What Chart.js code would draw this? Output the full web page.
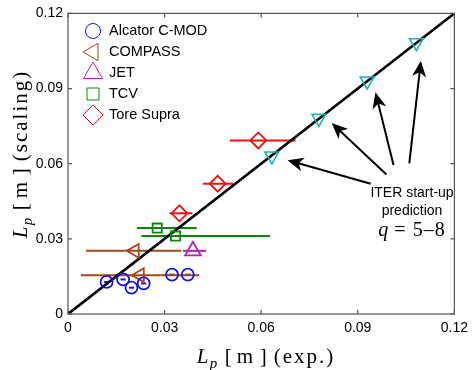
<!DOCTYPE html>
<html><head><meta charset="utf-8">
<script src="https://cdn.jsdelivr.net/npm/chart.js@4"></script>
<style>html,body{margin:0;padding:0;background:#fff}</style>
</head><body>
<canvas id="c" width="474" height="370"></canvas>
<script>
// L_p scaling vs experiment
const tickVals = [0, 0.03, 0.06, 0.09, 0.12];

const cmodX = [0.0120, 0.0171, 0.0197, 0.0235, 0.0323, 0.0372];
const cmodY = [0.0128, 0.0138, 0.0105, 0.0122, 0.0157, 0.0157];
const cmodLo = [0.0112, 0.0163, 0.0189, 0.0227, 0.0315, 0.0364];
const cmodHi = [0.0128, 0.0179, 0.0205, 0.0243, 0.0331, 0.0380];

const compassX = [0.0207, 0.0223];
const compassY = [0.0252, 0.0155];
const compassLo = [0.0056, 0.0040];
const compassHi = [0.0352, 0.0408];

const jetX = [0.0388];
const jetY = [0.0252];
const jetLo = [0.0357];
const jetHi = [0.0429];

const tcvX = [0.0277, 0.0334];
const tcvY = [0.0343, 0.0311];
const tcvLo = [0.0214, 0.0228];
const tcvHi = [0.0400, 0.0627];

const toreX = [0.0346, 0.0465, 0.0591];
const toreY = [0.0402, 0.0520, 0.0693];
const toreLo = [0.0315, 0.0419, 0.0503];
const toreHi = [0.0386, 0.0513, 0.0707];

const iterX = [0.0633, 0.0779, 0.0929, 0.1082];
const iterY = [0.0631, 0.0781, 0.0930, 0.1083];

const arrowTailX = [0.0940, 0.0989, 0.1011, 0.1060];
const arrowTailY = [0.0520, 0.0557, 0.0595, 0.0601];
const arrowHeadX = [0.0682, 0.0819, 0.0955, 0.1096];
const arrowHeadY = [0.0614, 0.0762, 0.0885, 0.1011];

const pts = (xs, ys) => xs.map((x, i) => ({x, y: ys[i]}));

const series = [
  {label: 'Alcator C-MOD', x: cmodX, y: cmodY, lo: cmodLo, hi: cmodHi, color: '#1414e6', style: 'circle', rot: 0, r: 6, lr: 7.5},
  {label: 'COMPASS', x: compassX, y: compassY, lo: compassLo, hi: compassHi, color: '#a8481a', style: 'triangle', rot: -90, r: 8, lr: 10},
  {label: 'JET', x: jetX, y: jetY, lo: jetLo, hi: jetHi, color: '#b81cc0', style: 'triangle', rot: 0, r: 9, lr: 11},
  {label: 'TCV', x: tcvX, y: tcvY, lo: tcvLo, hi: tcvHi, color: '#0a860a', style: 'rect', rot: 0, r: 6.5, lr: 8.5},
  {label: 'Tore Supra', x: toreX, y: toreY, lo: toreLo, hi: toreHi, color: '#f01010', style: 'rectRot', rot: 0, r: 8, lr: 10}
];

const datasets = series.map(s => ({
  label: s.label, data: pts(s.x, s.y), pointStyle: s.style, rotation: s.rot,
  pointRadius: s.r, pointHoverRadius: s.r, borderColor: s.color,
  backgroundColor: 'rgba(0,0,0,0)', borderWidth: 1.8, showLine: false
}));
datasets.push({
  label: 'ITER', data: pts(iterX, iterY), pointStyle: 'triangle', rotation: 180,
  pointRadius: 8, borderColor: '#19b5b8', backgroundColor: 'rgba(0,0,0,0)', borderWidth: 1.6, showLine: false
});
datasets.push({
  label: 'diag', type: 'line', data: [{x: 0, y: 0}, {x: 0.12, y: 0.12}],
  borderColor: '#000', borderWidth: 2.6, pointRadius: 0, fill: false
});

// L_p [ m ] (...) in a LaTeX-ish look
const FS = 21;
function drawLp(ctx, cx, base, tail) {
  ctx.save();
  ctx.fillStyle = '#000'; ctx.textBaseline = 'alphabetic'; ctx.textAlign = 'left';
  ctx.font = FS + 'px "Liberation Serif"';
  ctx.letterSpacing = '2px';
  const total = 77 + ctx.measureText(tail).width;
  ctx.letterSpacing = '0px';
  ctx.translate(cx - total / 2, base);
  ctx.font = 'italic ' + FS + 'px "Liberation Serif"';
  ctx.fillText('L', 0, 0);
  ctx.font = 'italic ' + Math.round(FS * 0.7) + 'px "Liberation Serif"';
  ctx.fillText('p', 13, 5);
  ctx.font = FS + 'px "Liberation Serif"';
  ctx.fillText('[', 28, 0);
  ctx.fillText('m', 40, 0);
  ctx.fillText(']', 63, 0);
  ctx.letterSpacing = '2px';
  ctx.fillText(tail, 77, 0);
  ctx.restore();
}

const extras = {
  id: 'extras',
  beforeDatasetsDraw(chart) {
    const {ctx, scales: {x, y}} = chart;
    ctx.save();
    ctx.lineWidth = 2;
    series.forEach(s => {
      ctx.strokeStyle = s.color;
      s.x.forEach((v, i) => {
        const py = y.getPixelForValue(s.y[i]);
        ctx.beginPath();
        ctx.moveTo(x.getPixelForValue(s.lo[i]), py);
        ctx.lineTo(x.getPixelForValue(s.hi[i]), py);
        ctx.stroke();
      });
    });
    ctx.restore();
  },
  afterDatasetsDraw(chart) {
    const {ctx, chartArea: a, scales: {x, y}} = chart;
    ctx.save();
    // frame + inner ticks
    ctx.strokeStyle = '#555'; ctx.lineWidth = 1.2;
    ctx.strokeRect(a.left, a.top, a.right - a.left, a.bottom - a.top);
    tickVals.forEach(v => {
      const tx = x.getPixelForValue(v), ty = y.getPixelForValue(v);
      ctx.beginPath();
      ctx.moveTo(tx, a.bottom); ctx.lineTo(tx, a.bottom - 4);
      ctx.moveTo(tx, a.top); ctx.lineTo(tx, a.top + 4);
      ctx.moveTo(a.left, ty); ctx.lineTo(a.left + 4, ty);
      ctx.moveTo(a.right, ty); ctx.lineTo(a.right - 4, ty);
      ctx.stroke();
    });
    // arrows
    ctx.strokeStyle = '#000'; ctx.fillStyle = '#000'; ctx.lineWidth = 2;
    arrowTailX.forEach((tx0, i) => {
      const x0 = x.getPixelForValue(tx0), y0 = y.getPixelForValue(arrowTailY[i]);
      const x1 = x.getPixelForValue(arrowHeadX[i]), y1 = y.getPixelForValue(arrowHeadY[i]);
      const ang = Math.atan2(y1 - y0, x1 - x0);
      const L = 16, W = 7;
      ctx.beginPath(); ctx.moveTo(x0, y0);
      ctx.lineTo(x1 - Math.cos(ang) * L * 0.7, y1 - Math.sin(ang) * L * 0.7); ctx.stroke();
      ctx.save(); ctx.translate(x1, y1); ctx.rotate(ang);
      ctx.beginPath(); ctx.moveTo(0, 0); ctx.lineTo(-L, W); ctx.lineTo(-L * 0.72, 0); ctx.lineTo(-L, -W);
      ctx.closePath(); ctx.fill(); ctx.restore();
    });
    // annotation text
    ctx.fillStyle = '#000'; ctx.textAlign = 'center'; ctx.textBaseline = 'middle';
    ctx.font = '14px "Liberation Sans"';
    ctx.fillText('ITER start-up', 412, 193);
    ctx.fillText('prediction', 412, 211);
    ctx.font = 'italic 20px "Liberation Serif"';
    const wq = ctx.measureText('q').width;
    ctx.font = '20px "Liberation Serif"';
    ctx.letterSpacing = '1px';
    const wr = ctx.measureText(' = 5–8').width;
    const qx = 412 - (wq + wr) / 2;
    ctx.textAlign = 'left';
    ctx.font = 'italic 20px "Liberation Serif"'; ctx.fillText('q', qx, 231);
    ctx.font = '20px "Liberation Serif"'; ctx.fillText(' = 5–8', qx + wq, 231);
    ctx.restore();
  },
  afterDraw(chart) {
    const {ctx} = chart;
    ctx.save();
    // legend
    series.forEach((s, i) => {
      const ly = 31 + i * 21;
      ctx.strokeStyle = s.color; ctx.fillStyle = 'rgba(0,0,0,0)';
      Chart.helpers.drawPoint(ctx, {pointStyle: s.style, rotation: s.rot, radius: s.lr, borderWidth: 1.8}, 93, ly);
      ctx.fillStyle = '#000'; ctx.font = '14.5px "Liberation Sans"';
      ctx.textAlign = 'left'; ctx.textBaseline = 'middle';
      ctx.fillText(s.label, 109, ly);
    });
    // axis titles
    drawLp(ctx, 266, 363, '(exp.)');
    ctx.translate(27, 154); ctx.rotate(-Math.PI / 2);
    drawLp(ctx, 0, 0, '(scaling)');
    ctx.restore();
  }
};

const fmt = v => v === 0 ? '0' : v.toFixed(2);

new Chart(document.getElementById('c'), {
  type: 'scatter',
  data: {datasets},
  options: {
    responsive: false, animation: false,
    layout: {padding: {top: 8, right: 16, left: 0, bottom: 0}},
    plugins: {legend: {display: false}, tooltip: {enabled: false}},
    scales: {
      x: {
        type: 'linear', min: 0, max: 0.12,
        afterBuildTicks: s => { s.ticks = tickVals.map(v => ({value: v})); },
        afterFit: s => { s.height = 56; },
        grid: {display: false, drawTicks: false}, border: {display: false},
        ticks: {callback: fmt, color: '#000', padding: 6, font: {family: 'Liberation Sans', size: 14}, maxRotation: 0}
      },
      y: {
        type: 'linear', min: 0, max: 0.12,
        afterBuildTicks: s => { s.ticks = tickVals.map(v => ({value: v})); },
        afterFit: s => { s.width = 68; },
        grid: {display: false, drawTicks: false}, border: {display: false},
        ticks: {callback: fmt, color: '#000', padding: 5, font: {family: 'Liberation Sans', size: 14}}
      }
    }
  },
  plugins: [extras]
});
</script>
</body></html>
